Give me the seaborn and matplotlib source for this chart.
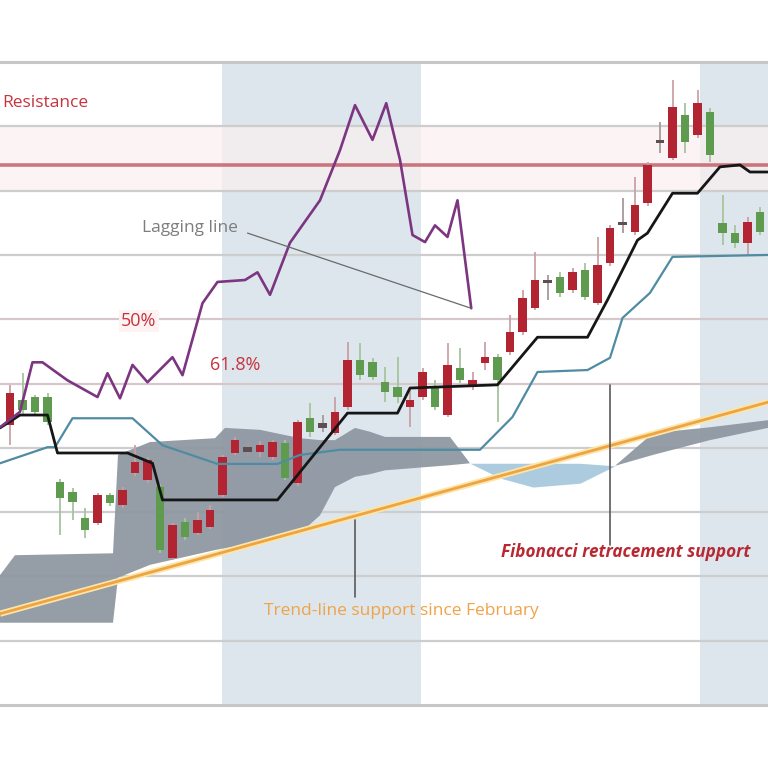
import numpy as np
import pandas as pd
import seaborn as sns
import matplotlib.pyplot as plt

# candles, one per session (index 0..60)
opens = [143.5, 147.4, 147.9, 147.9, 134.7, 133.1, 129.1, 128.3, 132.7, 131.1,
         136.1, 135.0, 133.9, 122.9, 128.5, 126.7, 127.7, 132.7, 139.2, 139.3,
         139.3, 138.6, 140.7, 134.5, 144.6, 143.1, 142.3, 146.3, 153.7, 153.3,
         150.2, 149.5, 146.3, 147.9, 149.5, 145.1, 152.4, 149.5, 153.2, 154.1,
         154.9, 158.0, 161.7, 165.6, 166.6, 164.5, 167.7, 162.5, 168.7, 174.6,
         173.6, 178.1, 187.9, 185.1, 191.8, 188.6, 192.2, 174.9, 173.4, 171.8,
         176.7]
closes = [148.5, 145.9, 145.6, 144.0, 132.2, 131.6, 127.2, 132.7, 131.4, 133.4,
          137.8, 138.1, 124.1, 128.0, 126.1, 128.8, 130.3, 138.6, 141.2, 140.1,
          140.4, 140.9, 135.3, 144.0, 142.5, 143.9, 145.6, 153.7, 151.3, 151.0,
          148.7, 147.9, 147.4, 151.8, 146.3, 152.9, 150.5, 150.5, 154.1, 150.5,
          158.0, 163.3, 166.1, 166.1, 164.1, 167.3, 163.5, 168.4, 174.2, 175.1,
          177.8, 184.0, 187.4, 193.0, 187.6, 193.6, 185.5, 173.4, 171.8, 175.1,
          173.6]
highs = [149.8, 151.6, 148.2, 148.5, 135.1, 133.7, 130.6, 133.0, 133.0, 133.9,
         140.4, 138.6, 134.4, 128.3, 129.1, 130.0, 131.1, 138.9, 141.7, 140.7,
         141.1, 141.2, 141.2, 144.3, 147.0, 145.1, 147.9, 156.5, 156.3, 154.0,
         152.6, 154.1, 149.0, 152.4, 150.5, 156.3, 155.5, 151.8, 156.5, 154.6,
         160.7, 164.5, 170.5, 166.9, 167.3, 168.0, 168.7, 172.8, 174.6, 178.8,
         182.1, 184.4, 190.7, 197.2, 193.6, 195.6, 192.8, 179.3, 174.6, 175.9,
         177.4]
lows = [140.4, 145.1, 145.1, 143.5, 126.4, 128.8, 126.0, 128.0, 130.9, 130.6,
        135.6, 134.5, 123.6, 122.6, 125.7, 126.4, 127.4, 132.3, 138.9, 138.7,
        138.6, 138.1, 135.0, 134.1, 141.7, 142.5, 142.0, 145.9, 150.5, 150.5,
        147.1, 147.0, 143.2, 147.4, 145.9, 144.8, 150.1, 149.0, 152.1, 144.0,
        154.4, 157.5, 161.4, 163.0, 163.5, 164.1, 163.0, 162.2, 168.3, 173.4,
        173.1, 177.6, 185.8, 184.8, 185.8, 188.2, 184.4, 171.5, 171.1, 170.0,
        173.1]

# base line (black)
base_x = [-0.8, 0.8, 3.0, 3.8, 9.4, 11.4, 12.2, 21.4, 27.0, 31.0, 32.0, 39.0,
          42.2, 46.2, 47.8, 50.2, 51.0, 53.0, 55.0, 56.8, 58.4, 59.2, 60.6]
base_y = [143.1, 145.1, 145.1, 139.2, 139.2, 137.6, 131.9, 131.9, 145.4, 145.4,
          149.3, 149.8, 157.2, 157.2, 163.0, 172.3, 173.4, 179.6, 179.6, 183.7,
          184.0, 182.9, 182.9]

# conversion line (teal)
conv_x = [-0.8, 3.0, 3.6, 5.0, 9.8, 12.2, 16.6, 21.4, 23.2, 26.4, 37.6, 40.2,
          42.2, 46.2, 48.0, 49.0, 51.2, 53.0, 60.6]
conv_y = [137.6, 140.1, 140.1, 144.6, 144.6, 140.4, 137.5, 137.5, 138.9, 139.7,
          139.7, 144.8, 151.8, 152.1, 154.0, 160.2, 164.1, 169.7, 170.0]

# lagging line (purple)
lag_x = [-0.8, 0.8, 1.8, 2.6, 4.6, 7.0, 7.8, 8.8, 9.8, 11.0, 13.0, 13.8, 15.4,
         16.6, 18.8, 19.8, 20.8, 22.4, 24.8, 26.4, 27.6, 29.0, 30.1, 31.2, 32.2,
         33.2, 34.0, 35.0, 35.8, 36.9]
lag_y = [143.2, 145.6, 153.3, 153.3, 150.5, 147.9, 151.6, 147.7, 152.9, 150.2,
         154.1, 151.3, 162.5, 165.8, 166.1, 167.3, 163.8, 171.9, 178.5, 186.3,
         193.3, 187.9, 193.6, 184.8, 173.1, 172.0, 174.6, 172.8, 178.5, 161.7]

# cloud spans
cloud_x = [-0.8, 0.4, 8.24, 8.64, 11.2, 16.4, 17.2, 20.0, 23.2, 24.8, 26.0, 27.6,
           28.8, 30.0, 35.2, 36.8, 39.2, 41.84, 45.6, 48.4, 51.44, 56.0, 60.64]
span_a = [120.2, 123.3, 123.6, 138.9, 140.9, 141.5, 143.1, 142.8, 141.5, 141.2,
          141.2, 143.1, 142.5, 141.7, 141.7, 137.6, 135.3, 133.9, 134.5, 137.2,
          142.3, 143.2, 144.3]
span_b = [112.8, 112.8, 112.8, 119.8, 121.8, 124.1, 124.4, 125.2, 126.7, 129.5,
          133.9, 135.5, 135.9, 136.5, 137.3, 137.6, 137.6, 137.6, 137.6, 137.2,
          138.9, 141.2, 143.1]

trend_x = [-0.8, 60.64]
trend_y = [114.2, 147.1]

resistance = 184.0
fib_50 = 160.0
fib_618 = 150.0
grid_levels = [110, 120, 130, 140, 150, 160, 170, 180, 190]

sns.set_theme(style="white")
plt.rcParams['font.family'] = ['Open Sans', 'DejaVu Sans']

fig = plt.figure(figsize=(7.68, 7.68), dpi=100)
ax = fig.add_axes([0, 0.0820, 1, 0.8372])
ax.set_xlim(-0.8, 60.64)
ax.set_ylim(100, 200)
ax.set_axis_off()

# shaded period bands
ax.axvspan(16.96, 32.88, color='#dce6ec', zorder=0, lw=0)
ax.axvspan(55.2, 61.0, color='#dce6ec', zorder=0, lw=0)

# resistance zone
ax.axhspan(180.1, 190.0, color='#fbeff0', alpha=0.7, zorder=0.5, lw=0)

for lvl in grid_levels:
    c = '#d6c8ca' if lvl in (fib_50, fib_618) else '#cdcdcd'
    ax.axhline(lvl, color=c, lw=1.6, zorder=1)
ax.axhline(200, color='#c6c6c6', lw=2.2, zorder=1, clip_on=False)
ax.axhline(100, color='#c6c6c6', lw=2.2, zorder=1, clip_on=False)
ax.axhline(resistance, color='#c4606a', lw=2.6, alpha=0.85, zorder=1.5)

# cloud
cx = np.array(cloud_x)
a = np.array(span_a)
b = np.array(span_b)
ax.fill_between(cx, a, b, where=a >= b, interpolate=True, color='#8f98a2',
                alpha=0.95, lw=0, zorder=2)
ax.fill_between(cx, a, b, where=a < b, interpolate=True, color='#a8c9de',
                alpha=0.95, lw=0, zorder=2)

# trend line
ax.plot(trend_x, trend_y, color='#fbe6a8', lw=4.5, zorder=3, solid_capstyle='butt')
ax.plot(trend_x, trend_y, color='#eea445', lw=2.0, zorder=3.1)

# candles
df = pd.DataFrame({'open': opens, 'close': closes, 'high': highs, 'low': lows})
df['idx'] = np.arange(len(df))
for _, r in df.iterrows():
    diff = r['close'] - r['open']
    if abs(diff) <= 0.9:
        body_c, wick_c = '#5e4d52', '#a59a9c'
    elif diff > 0:
        body_c, wick_c = '#b32432', '#caa1a6'
    else:
        body_c, wick_c = '#5f9b4f', '#a6c49c'
    ax.vlines(r['idx'], r['low'], r['high'], color=wick_c, lw=1.3, zorder=4)
    lo = min(r['open'], r['close'])
    h = max(abs(diff), 0.45)
    ax.bar(r['idx'], h, bottom=lo, width=0.7, color=body_c, lw=0, zorder=4.2)

# indicator lines
sns.lineplot(x=conv_x, y=conv_y, ax=ax, color='#4f8ba2', lw=1.6,
             estimator=None, sort=False, zorder=5)
sns.lineplot(x=base_x, y=base_y, ax=ax, color='#161616', lw=2.0,
             estimator=None, sort=False, zorder=5.2)
sns.lineplot(x=lag_x, y=lag_y, ax=ax, color='#7c3580', lw=1.9,
             estimator=None, sort=False, zorder=5.4)

# annotations
red_txt = '#c8323c'
ax.text(-0.65, 193.6, 'Resistance', color=red_txt, fontsize=12.5,
        ha='left', va='center', zorder=6)
ax.text(14.4, 174.2, 'Lagging line', color='#7d7d7d', fontsize=12.5,
        ha='center', va='center', zorder=6)
ax.plot([19.0, 36.9], [173.4, 161.7], color='#6a6a6a', lw=0.9, zorder=6)
ax.text(10.32, 159.7, '50%', color=red_txt, fontsize=13, ha='center',
        va='center', zorder=6,
        bbox=dict(facecolor='#fdf3f3', edgecolor='none', pad=1.5))
ax.text(18.0, 152.9, '61.8%', color=red_txt, fontsize=13, ha='center',
        va='center', zorder=6)
ax.plot([48.0, 48.0], [149.8, 124.9], color='#5a5a5a', lw=1.2, zorder=6)
ax.text(49.28, 123.8, 'Fibonacci retracement support', color='#b82832',
        fontsize=12.3, fontweight='bold', fontstyle='italic', ha='center',
        va='center', zorder=6)
ax.plot([27.6, 27.6], [128.8, 116.8], color='#5a5a5a', lw=1.2, zorder=6)
ax.text(31.28, 114.6, 'Trend-line support since February', color='#f0a347',
        fontsize=12.5, ha='center', va='center', zorder=6)

fig.savefig('out.png', dpi=100, facecolor='white')
plt.close(fig)
